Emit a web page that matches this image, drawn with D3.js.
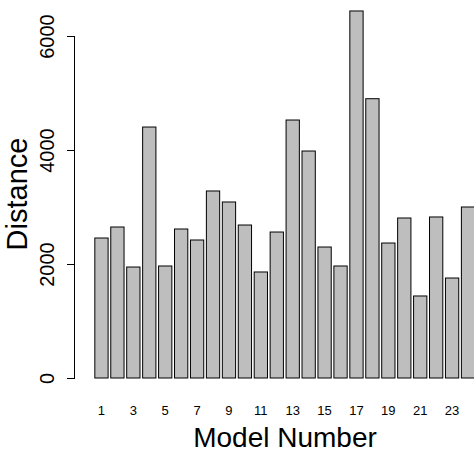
<!DOCTYPE html><html><head><meta charset="utf-8">
<script src="https://cdn.jsdelivr.net/npm/d3@7"></script>
<style>body{margin:0;background:#fff}</style></head><body>
<svg id="c" width="474" height="463"></svg>
<script>
const models = d3.range(1,25);
const distances = [2456,2649,1947,4403,1965,2614,2421,3281,3088,2684,1860,2561,4526,3982,2298,1965,6439,4900,2368,2807,1439,2825,1754,3000];
const yTicks = [0,2000,4000,6000];
const svg = d3.select("#c");
const font = "Liberation Sans, Arial, sans-serif";
const y = d3.scaleLinear().domain([0,6000]).range([378,36]);
const x = d3.scaleBand().domain(models).range([93.5,476]).paddingInner(0.1667).paddingOuter(0.0833);
svg.selectAll("rect").data(distances).join("rect")
  .attr("x",(d,i)=>x(models[i])).attr("width",x.bandwidth())
  .attr("y",d=>y(d)).attr("height",d=>y(0)-y(d))
  .attr("fill","#bebebe").attr("stroke","#000").attr("stroke-width",1);
const ya = svg.append("g").attr("transform","translate(75,0)")
  .call(d3.axisLeft(y).tickValues(yTicks).tickSize(8).tickFormat(d3.format("d")));
ya.select(".domain").attr("d","M-0.5,"+y(0)+"V"+y(6000)).attr("stroke","#000");
ya.selectAll(".tick text").attr("font-family",font).attr("font-size",20).attr("fill","#000")
  .attr("text-anchor","middle").attr("x",0).attr("y",0).attr("dy","0.35em")
  .attr("transform","translate(-28,0) rotate(-90)");
svg.selectAll("text.xl").data(models.filter(m=>m%2==1)).join("text").attr("class","xl")
  .attr("x",d=>x(d)+x.bandwidth()/2).attr("y",415).attr("text-anchor","middle")
  .attr("font-family",font).attr("font-size",13).text(d=>d);
svg.append("text").attr("x",285).attr("y",447).attr("text-anchor","middle")
  .attr("font-family",font).attr("font-size",28).text("Model Number");
svg.append("text").attr("transform","translate(27,194) rotate(-90)").attr("text-anchor","middle")
  .attr("font-family",font).attr("font-size",29).text("Distance");
</script></body></html>
